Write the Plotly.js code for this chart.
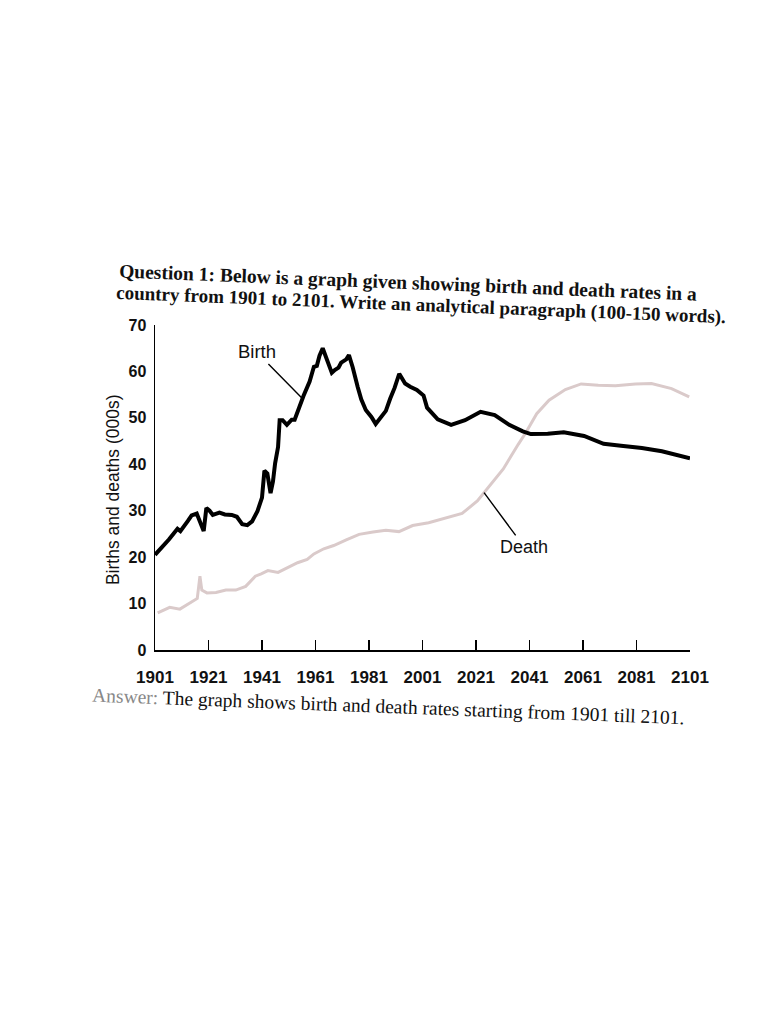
<!DOCTYPE html>
<html>
<head>
<meta charset="utf-8">
<script src="https://cdn.plot.ly/plotly-3.0.1.min.js"></script>
<style>
  html, body { margin: 0; padding: 0; background: #ffffff; }
  #chart { width: 768px; height: 1024px; }
</style>
</head>
<body>
<div id="chart"></div>
<script>
// ---- Data (thousands) ----
const birthYears = [1901.0, 1903.4, 1906.2, 1909.4, 1910.5, 1913.3, 1914.7, 1916.6, 1917.9, 1919.2,
  1920.2, 1921.4, 1922.6, 1925.1, 1927.1, 1929.7, 1931.6, 1933.6, 1935.5, 1937.3,
  1939.3, 1941.0, 1941.9, 1943.0, 1944.2, 1945.1, 1945.9, 1947.0, 1947.6, 1948.7,
  1950.3, 1952.1, 1953.2, 1954.9, 1956.5, 1958.8, 1960.4, 1961.5, 1962.5, 1963.7,
  1965.0, 1967.1, 1968.2, 1969.6, 1970.6, 1972.5, 1973.5, 1974.9, 1976.8, 1978.1,
  1979.8, 1981.9, 1983.5, 1985.6, 1987.3, 1988.9, 1990.6, 1992.3, 1994.5, 1996.4,
  1998.9, 2001.4, 2002.7, 2006.7, 2011.7, 2016.9, 2022.7, 2028.0, 2033.4, 2038.5,
  2041.5, 2047.8, 2053.8, 2061.4, 2068.7, 2075.2, 2083.0, 2090.5, 2101.0];
const birthValues = [20.5, 22.0, 23.8, 26.1, 25.6, 27.8, 29.0, 29.4, 27.7, 25.6,
  30.6, 30.0, 29.1, 29.6, 29.2, 29.1, 28.7, 27.1, 26.9, 27.7,
  29.9, 32.8, 38.6, 38.0, 33.8, 36.3, 40.2, 43.7, 49.5, 49.5,
  48.5, 49.6, 49.6, 52.3, 54.7, 57.8, 61.0, 61.2, 63.4, 65.0,
  62.8, 59.7, 60.3, 60.8, 61.9, 62.6, 63.5, 60.9, 56.6, 54.0,
  51.7, 50.2, 48.7, 50.3, 51.5, 54.1, 56.5, 59.5, 57.4, 56.7,
  56.0, 54.8, 52.2, 49.7, 48.5, 49.5, 51.3, 50.6, 48.5, 47.1,
  46.5, 46.6, 46.9, 46.1, 44.4, 44.0, 43.5, 42.8, 41.3];

const deathYears = [1902.0, 1906.5, 1910.3, 1913.9, 1916.8, 1917.8, 1918.5, 1920.4, 1923.8, 1927.5,
  1931.2, 1934.9, 1938.5, 1940.7, 1943.2, 1947.0, 1950.6, 1954.3, 1957.9, 1960.4,
  1964.1, 1967.8, 1972.5, 1977.3, 1982.5, 1987.3, 1992.2, 1997.3, 2003.3, 2009.5,
  2015.8, 2021.5, 2024.0, 2028.7, 2031.2, 2036.8, 2039.6, 2043.7, 2048.3, 2054.4,
  2060.3, 2066.7, 2073.1, 2080.6, 2086.6, 2094.1, 2100.7];
const deathValues = [8.0, 9.2, 8.8, 10.0, 11.1, 15.9, 12.9, 12.3, 12.4, 12.9,
  12.9, 13.7, 15.9, 16.4, 17.1, 16.7, 17.7, 18.8, 19.5, 20.7,
  21.8, 22.5, 23.7, 24.9, 25.4, 25.8, 25.5, 26.8, 27.4, 28.4,
  29.4, 32.1, 33.9, 37.2, 39.0, 44.3, 46.8, 50.9, 53.8, 56.1,
  57.3, 57.0, 56.9, 57.3, 57.4, 56.3, 54.5];

const xTickYears = [1901, 1921, 1941, 1961, 1981, 2001, 2021, 2041, 2061, 2081, 2101];
const yTickValues = [0, 10, 20, 30, 40, 50, 60, 70];

const titleLine1 = "Question 1: Below is a graph given showing birth and death rates in a";
const titleLine2 = "country from 1901 to 2101. Write an analytical paragraph (100-150 words).";
const answerPrefix = "Answer:";
const answerText = " The graph shows birth and death rates starting from 1901 till 2101.";
const yTitle = "Births and deaths (000s)";

// label anchor points on the lines, and where each label sits (data units)
const birthLabelAt = { x: 1956.0, y: 54.2 };
const birthTextAt = { x: 1939.0, y: 64.2 };
const deathLabelAt = { x: 2024.0, y: 33.9 };
const deathTextAt = { x: 2039.0, y: 22.2 };

const traces = [
  {
    x: deathYears, y: deathValues, type: "scatter", mode: "lines",
    line: { color: "#dacaca", width: 3 }, hoverinfo: "skip", name: "Death"
  },
  {
    x: birthYears, y: birthValues, type: "scatter", mode: "lines",
    line: { color: "#000000", width: 4 }, hoverinfo: "skip", name: "Birth"
  }
];

const sans = "Liberation Sans, Arial, sans-serif";
const serif = "Liberation Serif, Times New Roman, serif";

const layout = {
  width: 768, height: 1024,
  margin: { l: 155, r: 78, t: 325, b: 374 },
  paper_bgcolor: "#ffffff", plot_bgcolor: "#ffffff",
  showlegend: false,
  xaxis: {
    range: [1901, 2101], tickvals: xTickYears, ticktext: xTickYears.map(String),
    ticks: "inside", ticklen: 10, tickwidth: 1.5, tickcolor: "#000",
    showline: true, linewidth: 1.5, linecolor: "#000",
    showgrid: false, zeroline: false,
    tickfont: { family: sans, size: 17, color: "#111", weight: "bold" },
    ticklabelstandoff: 11
  },
  yaxis: {
    range: [0, 70], tickvals: yTickValues, ticktext: yTickValues.map(String),
    ticks: "", showline: true, linewidth: 1.5, linecolor: "#000",
    showgrid: false, zeroline: false,
    tickfont: { family: sans, size: 16, color: "#111", weight: "bold" },
    ticklabelstandoff: 4
  },
  annotations: [
    { xref: "paper", yref: "paper", x: 0.473, y: 1.132, text: "<b>" + titleLine1 + "</b>",
      showarrow: false, textangle: 2.3, xanchor: "center", yanchor: "middle",
      font: { family: serif, size: 19.5, color: "#111" } },
    { xref: "paper", yref: "paper", x: 0.497, y: 1.0615, text: "<b>" + titleLine2 + "</b>",
      showarrow: false, textangle: 2.3, xanchor: "center", yanchor: "middle",
      font: { family: serif, size: 19, color: "#111" } },
    { xref: "paper", yref: "paper", x: 0.436, y: -0.175,
      text: "<span style='color:#888'>" + answerPrefix + "</span>" + answerText,
      showarrow: false, textangle: 2.2, xanchor: "center", yanchor: "middle",
      font: { family: serif, size: 19.5, color: "#111" } },
    { xref: "paper", yref: "paper", x: -0.0785, y: 0.492, text: yTitle,
      showarrow: false, textangle: -90, xanchor: "center", yanchor: "middle",
      font: { family: sans, size: 17.5, color: "#111" } },
    { xref: "x", yref: "y", x: birthLabelAt.x, y: birthLabelAt.y, text: "Birth",
      showarrow: true, arrowhead: 0, arrowwidth: 1.4, arrowcolor: "#000",
      axref: "x", ayref: "y", ax: birthTextAt.x, ay: birthTextAt.y,
      standoff: 0, startstandoff: 0, font: { family: sans, size: 18.5, color: "#111" } },
    { xref: "x", yref: "y", x: deathLabelAt.x, y: deathLabelAt.y, text: "Death",
      showarrow: true, arrowhead: 0, arrowwidth: 1.4, arrowcolor: "#000",
      axref: "x", ayref: "y", ax: deathTextAt.x, ay: deathTextAt.y,
      standoff: 0, startstandoff: 0, font: { family: sans, size: 18, color: "#111" } }
  ]
};

Plotly.newPlot("chart", traces, layout, { staticPlot: true, displayModeBar: false });
</script>
</body>
</html>
